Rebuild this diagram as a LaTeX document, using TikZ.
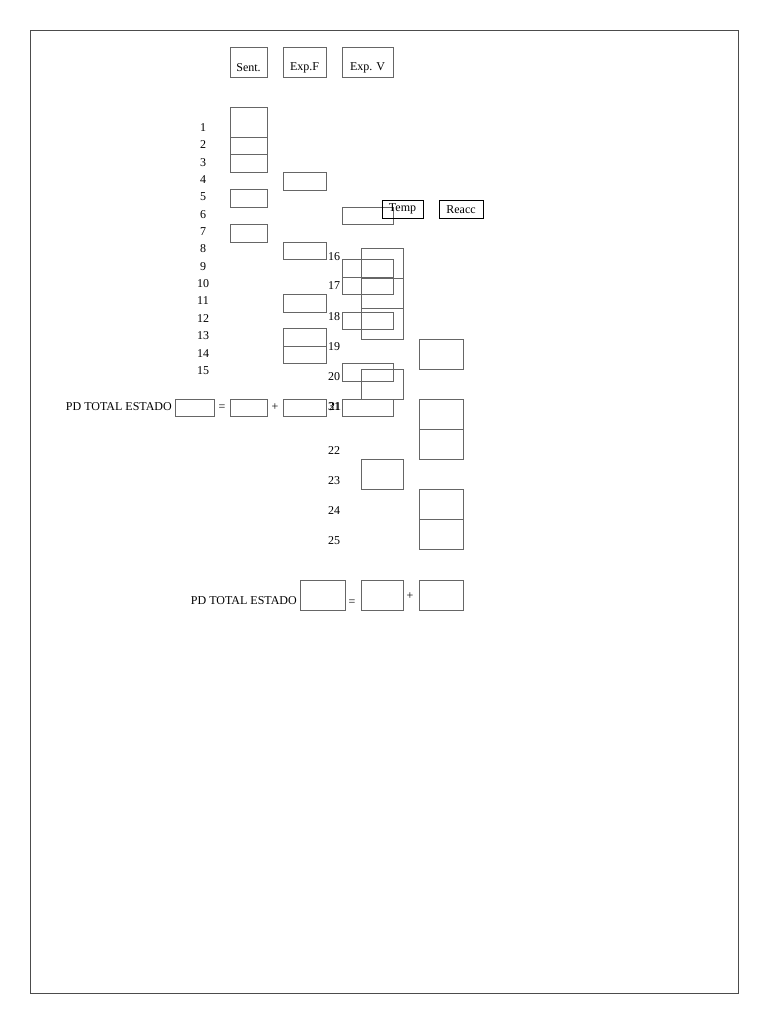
\documentclass[tikz,border=0pt]{standalone}
\usepackage{fontspec}
\setmainfont{Liberation Serif}
\begin{document}
\begin{tikzpicture}[x=1pt,y=-1pt,
  bx/.style={draw=black!60,line width=0.8pt},
  lbl/.style={font=\fontsize{12}{14}\selectfont,inner sep=0pt},
  num/.style={font=\fontsize{12}{14}\selectfont,inner sep=0pt,anchor=center}]
\useasboundingbox (0,0) rectangle (768,1024);
\draw[black!70,line width=0.8pt] (30,30) rectangle (738,993);
% headers
\draw[bx] (230,47) rectangle (267,77); \node[lbl] (hs) at (248.5,68) {Sent.};
\draw[bx] (283,47) rectangle (326,77); \node[lbl] (hf) at (304.5,68) {Exp.F};
\draw[bx] (342,47) rectangle (393,77); \node[lbl] (hv) at (367.5,68) {Exp. V};
% Sent column
\foreach \a/\b in {107/137,137/154,154/172,189/207,224/242} \draw[bx] (230,\a) rectangle (267,\b);
% Exp.F column
\foreach \a/\b in {172/190,242/259,294/312,328/346,346/363} \draw[bx] (283,\a) rectangle (326,\b);
% Exp.V column
\foreach \a/\b in {207/224,259/277,277/294,312/329,363/381,399/416} \draw[bx] (342,\a) rectangle (393,\b);
% Big column
\foreach \a/\b in {248/278,278/308,308/339,369/399,459/489} \draw[bx] (361,\a) rectangle (403,\b);
% Right column
\foreach \a/\b in {339/369,399/429,429/459,489/519,519/549} \draw[bx] (419,\a) rectangle (463,\b);
% Temp, Reacc
\draw[bx,draw=black] (382,200) rectangle (423,218); \node[lbl] (ht) at (402.5,209) {Temp};
\draw[bx,draw=black] (439,200) rectangle (483,218); \node[lbl] (hr) at (461,210) {Reacc};
% numbers 1-15
\foreach \n/\y in {1/128,2/145,3/163,4/180,5/197,6/215,7/232,8/249,9/267,10/284,11/301,12/319,13/336,14/354,15/371}
  \node[num] (n\n) at (203,\y) {\n};
\foreach \n/\y in {16/257,17/286,18/317,19/347,20/377,22/451,23/481,24/511,25/541}
  \node[num] (n\n) at (334,\y) {\n};
\node[num] (n31) at (334,407) {31};
\node[num] (n21) at (335,407) {21};
% PD total 1
\node[lbl,anchor=east] (pd1) at (172,407) {PD TOTAL ESTADO};
\draw[bx] (175,399) rectangle (214,416);
\node[lbl] (eq1) at (222,408) {=};
\draw[bx] (230,399) rectangle (267,416);
\node[lbl] (pl1) at (275,407) {+};
\draw[bx] (283,399) rectangle (326,416);
% PD total 2
\node[lbl,anchor=east] (pd2) at (297,601) {PD TOTAL ESTADO};
\draw[bx] (300,580) rectangle (345,610);
\node[lbl] (eq2) at (352,603) {=};
\draw[bx] (361,580) rectangle (403,610);
\node[lbl] (pl2) at (410,596) {+};
\draw[bx] (419,580) rectangle (463,610);
\end{tikzpicture}
\end{document}
